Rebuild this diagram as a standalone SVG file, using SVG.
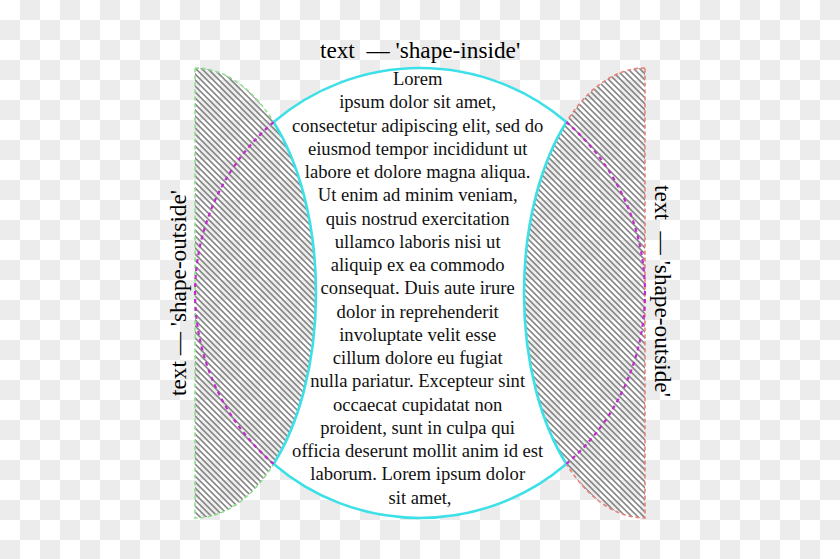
<svg xmlns="http://www.w3.org/2000/svg" width="840" height="559" viewBox="0 0 840 559">
<style>
.lbl{font-family:"Liberation Serif","Times New Roman",serif;font-size:23.25px;fill:#000;text-anchor:middle;white-space:pre}
.body{font-family:"Liberation Serif","Times New Roman",serif;font-size:18.6px;fill:#111;text-anchor:middle}
.hatch{fill:url(#hatch)}
.outl{fill:none;stroke-width:1.6;stroke-dasharray:4 3}
.circ{fill:none;stroke:#c22ccc;stroke-width:2.2;stroke-dasharray:4 4}
</style>
<defs>
<pattern id="checker" x="0" y="0" width="40" height="40" patternUnits="userSpaceOnUse">
<rect width="40" height="40" fill="#ffffff"/>
<rect x="20" y="0" width="20" height="20" fill="#ececec"/>
<rect x="0" y="20" width="20" height="20" fill="#ececec"/>
</pattern>
<pattern id="hatch" x="0" y="0" width="4.242641" height="8.485281" patternUnits="userSpaceOnUse" patternTransform="rotate(-45)">
<rect x="0" y="0" width="1.5" height="8.485281" fill="#7a7a7a"/>
</pattern>
</defs>
<rect width="840" height="559" fill="url(#checker)"/>
<g id="left-outside">
<path class="hatch" d="M195,68 A121 225 0 0 1 195,518 Z"/>
<path class="outl" stroke="#8fe08f" d="M195,68 A121 225 0 0 1 195,518 Z"/>
</g>
<g id="right-outside">
<path class="hatch" d="M645,68 A121 225 0 0 0 645,518 Z"/>
<path class="outl" stroke="#e8827a" d="M645,68 A121 225 0 0 0 645,518 Z"/>
</g>
<g id="inside-shape">
<path d="M273.7,122.1 A225 225 0 0 1 566.3,122.1 A121 225 0 0 0 566.3,463.9 A225 225 0 0 1 273.7,463.9 A121 225 0 0 0 273.7,122.1 Z" fill="#ffffff" stroke="#3ee0e8" stroke-width="2.6"/>
</g>
<g id="connectors">
<path class="circ" d="M273.7,122.1 A225 225 0 0 0 273.7,463.9"/>
<path class="circ" d="M566.3,122.1 A225 225 0 0 1 566.3,463.9"/>
</g>
<g id="labels">
<text class="lbl" x="420" y="58">text  — 'shape-inside'</text>
<text class="lbl" transform="translate(186,293) rotate(-90)" x="0" y="0">text — 'shape-outside'</text>
<text class="lbl" transform="translate(655,291) rotate(90)" x="0" y="0">text  — 'shape-outside'</text>
</g>
<g id="body-text">
<text class="body" x="420" y="85">
<tspan x="420" dy="0">Lorem</tspan>
<tspan x="420" dy="23.25">ipsum dolor sit amet,</tspan>
<tspan x="420" dy="23.25">consectetur adipiscing elit, sed do</tspan>
<tspan x="420" dy="23.25">eiusmod tempor incididunt ut</tspan>
<tspan x="420" dy="23.25">labore et dolore magna aliqua.</tspan>
<tspan x="420" dy="23.25">Ut enim ad minim veniam,</tspan>
<tspan x="420" dy="23.25">quis nostrud exercitation</tspan>
<tspan x="420" dy="23.25">ullamco laboris nisi ut</tspan>
<tspan x="420" dy="23.25">aliquip ex ea commodo</tspan>
<tspan x="420" dy="23.25">consequat. Duis aute irure</tspan>
<tspan x="420" dy="23.25">dolor in reprehenderit</tspan>
<tspan x="420" dy="23.25">involuptate velit esse</tspan>
<tspan x="420" dy="23.25">cillum dolore eu fugiat</tspan>
<tspan x="420" dy="23.25">nulla pariatur. Excepteur sint</tspan>
<tspan x="420" dy="23.25">occaecat cupidatat non</tspan>
<tspan x="420" dy="23.25">proident, sunt in culpa qui</tspan>
<tspan x="420" dy="23.25">officia deserunt mollit anim id est</tspan>
<tspan x="420" dy="23.25">laborum. Lorem ipsum dolor</tspan>
<tspan x="420" dy="23.25">sit amet,</tspan>
</text>
</g>
</svg>
